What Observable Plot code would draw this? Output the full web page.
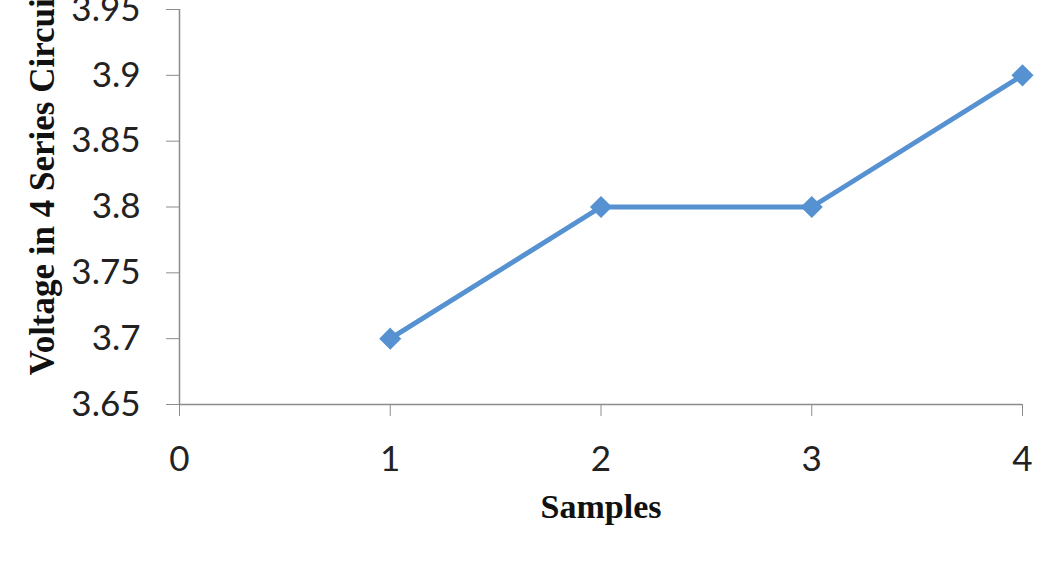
<!DOCTYPE html>
<html>
<head>
<meta charset="utf-8">
<script src="https://cdn.jsdelivr.net/npm/d3@7"></script>
<script src="https://cdn.jsdelivr.net/npm/@observablehq/plot@0.6"></script>
<style>
  html, body { margin: 0; padding: 0; background: #fff; }
  #chart { width: 1055px; height: 562px; overflow: hidden; }
</style>
</head>
<body>
<div id="chart"></div>
<script>
const samples = [1, 2, 3, 4];
const voltages = [3.7, 3.8, 3.8, 3.9];
const xTicks = [0, 1, 2, 3, 4];
const yTicks = [3.65, 3.7, 3.75, 3.8, 3.85, 3.9, 3.95];
const xTitle = "Samples";
const yTitle = "Voltage in 4 Series Circuit";

const data = samples.map((s, i) => ({sample: s, voltage: voltages[i]}));
const blue = "#5692d1";
const axisGray = "#8c8c8c";
const tickFont = "Lato, 'Open Sans', sans-serif";
const titleFont = "'Liberation Serif', 'DejaVu Serif', serif";

const chart = Plot.plot({
  width: 1055,
  height: 562,
  marginLeft: 179,
  marginRight: 33,
  marginTop: 9,
  marginBottom: 158,
  x: {domain: [0, 4]},
  y: {domain: [3.65, 3.95]},
  style: {background: "#fff", overflow: "visible"},
  marks: [
    Plot.axisX({ticks: xTicks, tickFormat: d => String(d), tickSize: 12, tickPadding: 30, stroke: axisGray, fontSize: 35, fill: "#222", fontFamily: tickFont, label: null}),
    Plot.axisY({ticks: yTicks, tickFormat: d => String(+d.toFixed(2)), tickSize: 13, tickPadding: 26, stroke: axisGray, fontSize: 35, fill: "#222", fontFamily: tickFont, label: null}),
    Plot.ruleY([3.65], {stroke: axisGray, strokeWidth: 1.5}),
    Plot.ruleX([0], {stroke: axisGray, strokeWidth: 1.5}),
    Plot.line(data, {x: "sample", y: "voltage", stroke: blue, strokeWidth: 5}),
    Plot.dot(data, {x: "sample", y: "voltage", symbol: "diamond2", r: 9, fill: blue, stroke: blue}),
    Plot.text([xTitle], {frameAnchor: "bottom", dy: 113, text: d => d, fontSize: 34, fontWeight: "bold", fontFamily: titleFont, fill: "#111"}),
    Plot.text([yTitle], {frameAnchor: "left", textAnchor: "middle", dx: -137, dy: -26, rotate: -90, text: d => d, fontSize: 35, fontWeight: "bold", fontFamily: titleFont, fill: "#111"})
  ]
});
document.getElementById("chart").appendChild(chart);
</script>
</body>
</html>
